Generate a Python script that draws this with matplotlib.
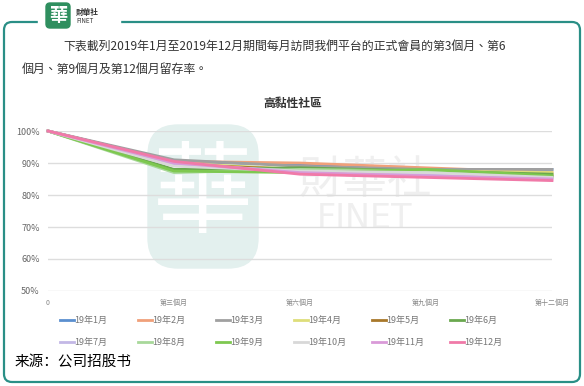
import matplotlib
matplotlib.use("Agg")
import matplotlib.pyplot as plt
from matplotlib.patches import FancyBboxPatch

plt.rcParams['font.family'] = ['Noto Sans CJK TC', 'DejaVu Sans']

categories = ['0', '第三個月', '第六個月', '第九個月', '第十二個月']
series_names = ['19年1月', '19年2月', '19年3月', '19年4月', '19年5月', '19年6月',
                '19年7月', '19年8月', '19年9月', '19年10月', '19年11月', '19年12月']
s01 = [100, 90.5, 89.5, 88.0, 88.0]
s02 = [100, 90.5, 90.0, 88.5, 87.0]
s03 = [100, 91.0, 89.0, 88.0, 88.0]
s04 = [100, 90.0, 88.0, 87.5, 87.0]
s05 = [100, 89.5, 88.0, 87.5, 86.0]
s06 = [100, 88.0, 88.5, 87.5, 86.5]
s07 = [100, 89.5, 87.5, 86.5, 85.5]
s08 = [100, 87.0, 88.0, 87.5, 85.5]
s09 = [100, 87.5, 87.0, 88.0, 86.0]
s10 = [100, 89.0, 87.5, 87.0, 85.5]
s11 = [100, 90.0, 87.0, 86.0, 85.0]
s12 = [100, 90.5, 86.5, 85.5, 84.5]
series = [s01, s02, s03, s04, s05, s06, s07, s08, s09, s10, s11, s12]
colors = ['#5b8fcf', '#f0a07a', '#a0a0a0', '#dede7a', '#a8782a', '#6aa84f',
          '#c3b8e6', '#a8d89a', '#7ec850', '#d8d8d8', '#d99ad8', '#f07aa8']
yticks = [50, 60, 70, 80, 90, 100]

W, H = 584, 386
fig = plt.figure(figsize=(W / 100, H / 100), dpi=100)

# frame
frame = fig.add_axes([0, 0, 1, 1])
frame.set_xlim(0, W)
frame.set_ylim(H, 0)
frame.axis('off')
box = FancyBboxPatch((4, 22), 576, 360, boxstyle="round,pad=0,rounding_size=8",
                     fill=False, edgecolor='#2a8f86', linewidth=1.6)
frame.add_patch(box)
frame.add_patch(plt.Rectangle((38, 16), 82, 12, color='white', zorder=2))
# logo
frame.add_patch(FancyBboxPatch((46, 3), 24, 25, boxstyle="round,pad=0,rounding_size=4",
                               color='#2f8f5f', zorder=3))
frame.text(58, 15.5, '華', color='white', fontsize=13, ha='center', va='center',
           fontweight='bold', zorder=4)
frame.text(76, 12, '財華社', color='#333333', fontsize=5.5, ha='left', va='center',
           fontweight='bold', zorder=4)
frame.text(76, 21, 'FINET', color='#333333', fontsize=4.5, ha='left', va='center', zorder=4)

# header text
frame.text(63, 47, '下表載列2019年1月至2019年12月期間每月訪問我們平台的正式會員的第3個月、第6',
           fontsize=8.6, color='#333333', ha='left', va='center')
frame.text(22, 69, '個月、第9個月及第12個月留存率。', fontsize=8.6, color='#333333',
           ha='left', va='center')
frame.text(293, 103, '高黏性社區', fontsize=8.5, color='#333333', ha='center', va='center',
           fontweight='bold')

# watermark
frame.add_patch(FancyBboxPatch((148, 125), 110, 143, boxstyle="round,pad=0,rounding_size=30",
                               color='#e3f0ee', zorder=0.5))
frame.text(203, 196, '華', fontsize=72, color='white', ha='center', va='center', zorder=0.6)
frame.text(365, 180, '財華社', fontsize=32, color='#efefef', ha='center', va='center', zorder=0.6)
frame.text(365, 218, 'FINET', fontsize=24, color='#efefef', ha='center', va='center', zorder=0.6,
           family='DejaVu Sans')

# source
frame.text(15, 362, '来源：公司招股书', fontsize=10.5, color='black', ha='left', va='center',
           family=['Noto Sans CJK SC', 'DejaVu Sans'])

ax = fig.add_axes([48 / W, 1 - 291 / H, (552 - 48) / W, (291 - 131) / H])
ax.patch.set_alpha(0)
x = list(range(len(categories)))
for name, vals, c in zip(series_names, series, colors):
    ax.plot(x, vals, color=c, linewidth=2.0, clip_on=False, label=name)
ax.set_xlim(0, 4)
ax.set_ylim(50, 100)
ax.set_yticks(yticks)
ax.set_yticklabels([f'{v}%' for v in yticks], fontsize=6.5, color='#666666')
ax.set_xticks(x)
ax.set_xticklabels(categories, fontsize=5, color='#888888')
ax.tick_params(length=0, pad=6)
for s in ax.spines.values():
    s.set_visible(False)
ax.grid(axis='y', color='#dddddd', linewidth=1)
ax.set_axisbelow(True)

# legend (row-major, fixed spacing)
for i, (name, c) in enumerate(zip(series_names, colors)):
    r, col = divmod(i, 6)
    lx = 60 + col * 78
    ly = 320 + r * 22
    frame.plot([lx, lx + 14], [ly, ly], color=c, linewidth=2)
    frame.text(lx + 14.5, ly, name, fontsize=6.5, color='#777777', ha='left', va='center')

fig.savefig('out.png', dpi=100)
